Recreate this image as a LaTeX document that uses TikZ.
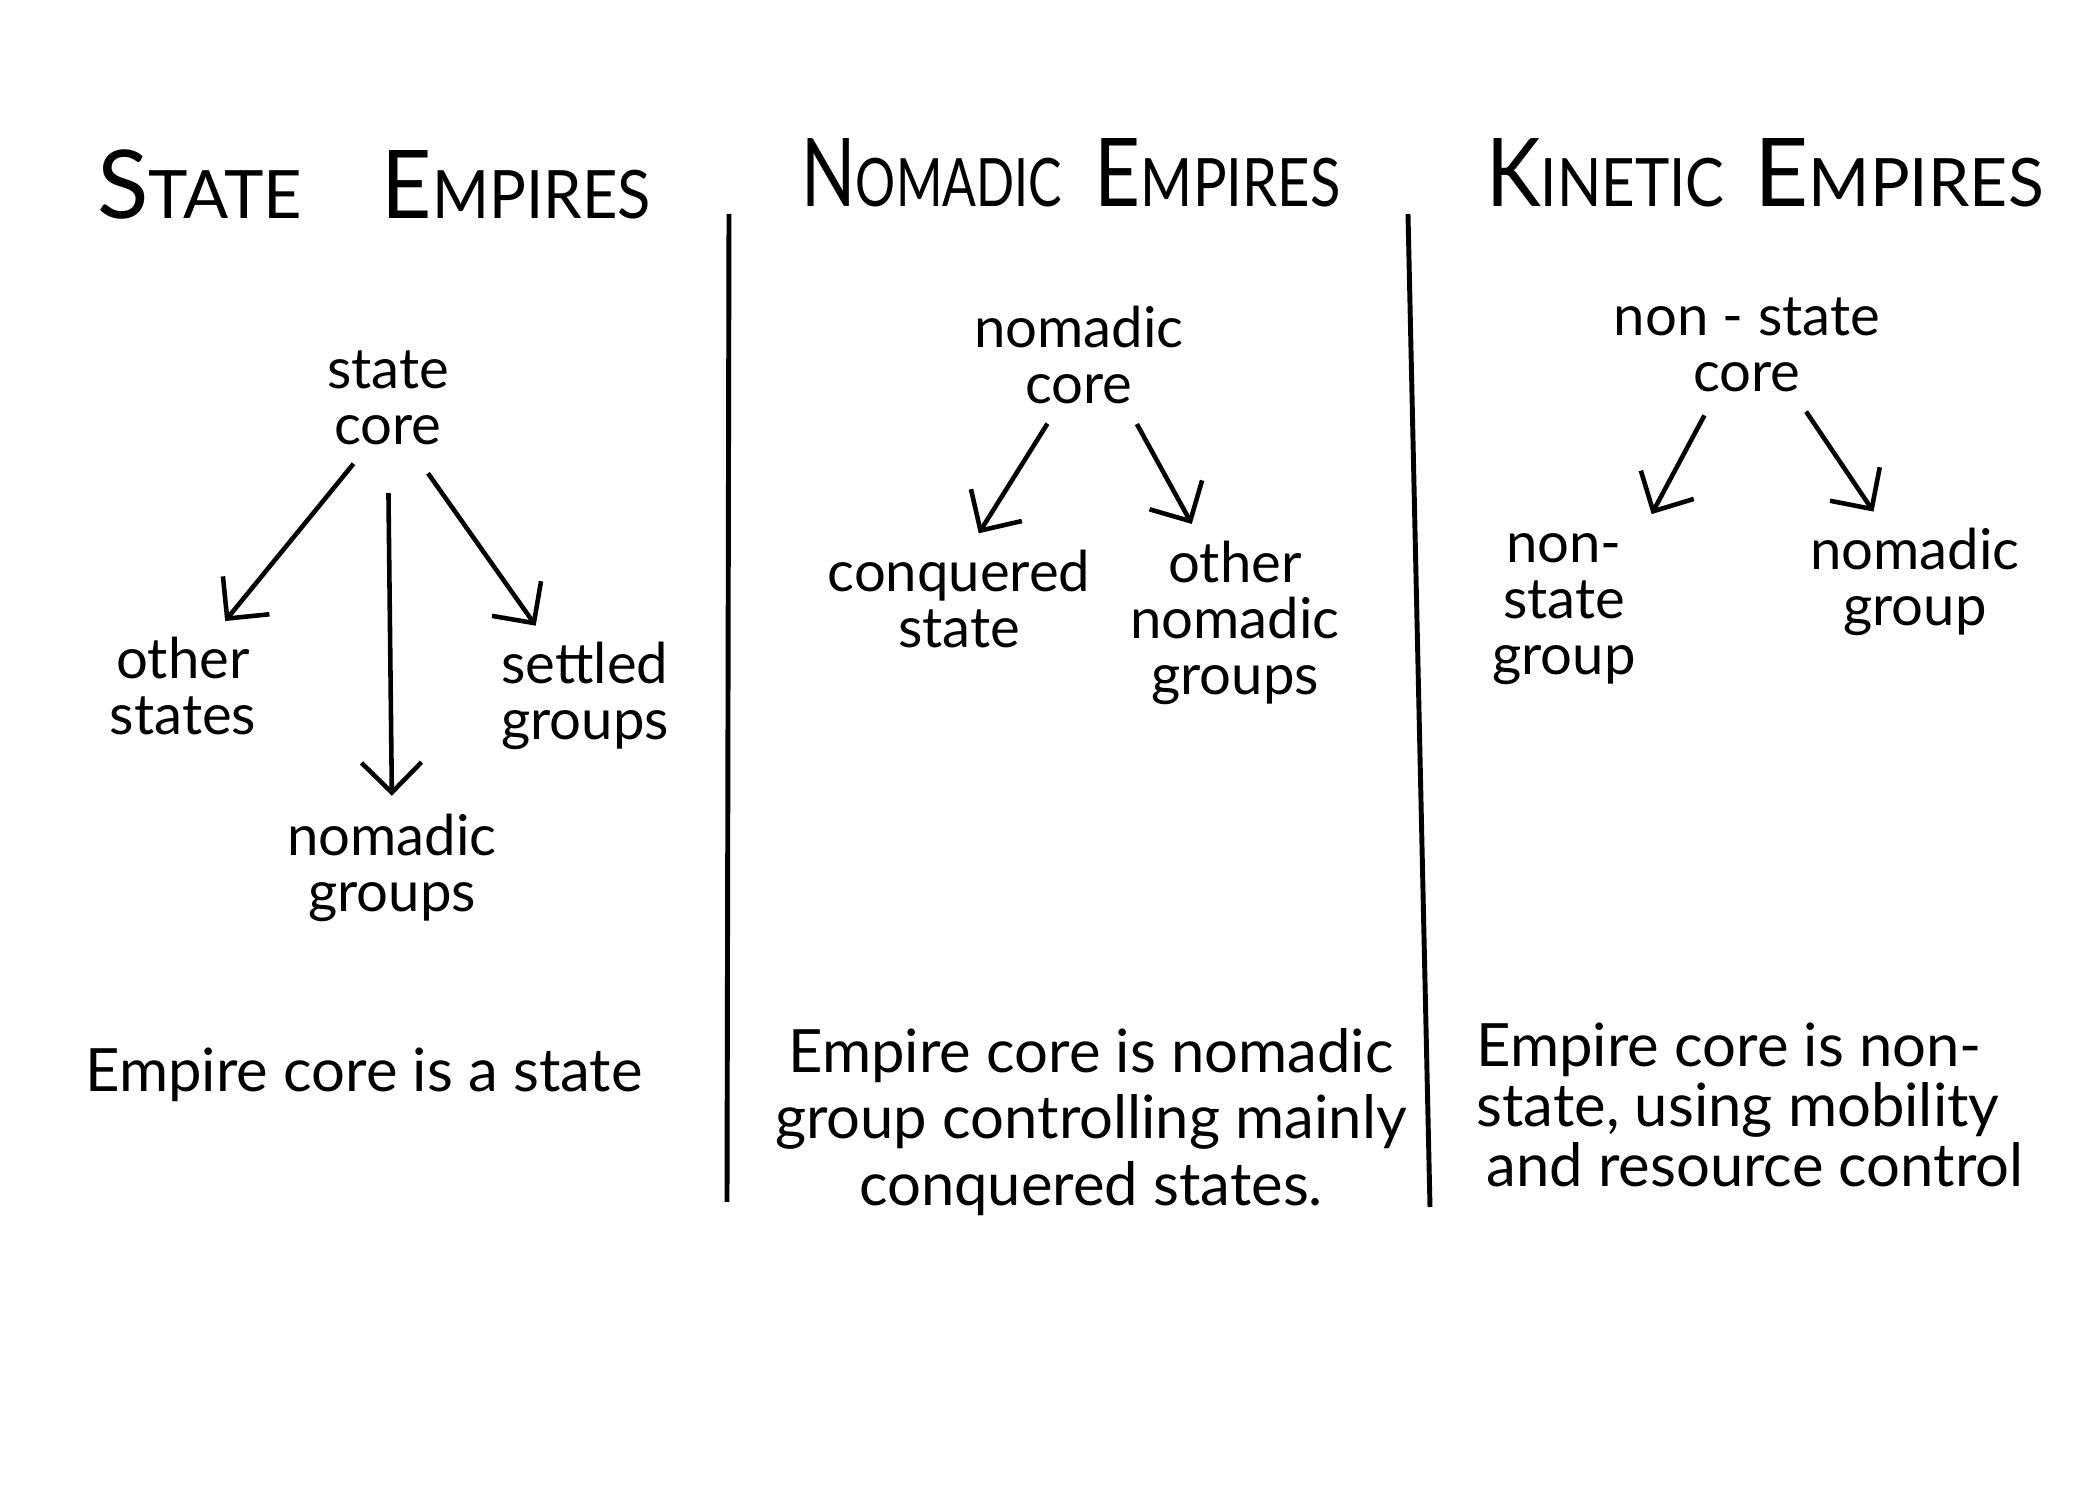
\documentclass[tikz,border=0pt]{standalone}
\usepackage{fontspec}
\setmainfont{Lato}
\usetikzlibrary{positioning,arrows.meta}

% hand-made small caps for the three headings: #1 = x-scale
\newcommand{\hcap}[3]{\scalebox{#1}[1]{{\fontsize{27}{27}\selectfont #2}{\fontsize{19}{19}\selectfont #3}}}

\begin{document}
\begin{tikzpicture}[
  every node/.style={font=\fontsize{16}{16}\selectfont, align=center, inner sep=2pt},
  heading/.style={anchor=center},
  note/.style={font=\fontsize{17}{19}\selectfont},
  arr/.style={-{Straight Barb[length=3mm,width=6mm]}, line width=1.3pt,
              shorten <=4pt, shorten >=3pt},
  divider/.style={line width=1.4pt}
]
\useasboundingbox (0,0) rectangle (21,15);

%% --- Headings ------------------------------------------------
\node[heading] (tstate) at (3.74,13.15)
     {\hcap{1.0}{S}{TATE}\hspace{0.8cm}\hcap{0.92}{E}{MPIRES}};
\node[heading] (tnomad) at (10.71,13.27)
     {\hcap{0.75}{N}{OMADIC}\hspace{0.33cm}\hcap{0.84}{E}{MPIRES}};
\node[heading] (tkinet) at (17.65,13.27)
     {\hcap{0.87}{K}{INETIC}\hspace{0.3cm}\hcap{0.99}{E}{MPIRES}};

%% --- Dividers ------------------------------------------------
\coordinate (div1top) at (7.29,12.86);
\coordinate (div1bot) at (7.27,2.98);
\coordinate (div2top) at (14.08,12.86);
\coordinate (div2bot) at (14.30,2.93);
\draw[divider] (div1top) -- (div1bot);
\draw[divider] (div2top) -- (div2bot);

%% --- State empires -------------------------------------------
\node (score)   at (3.88,11.02) {state\\core};
\node (sother)  at (1.83,8.14)  {other\\states};
\node (ssettle) at (5.85,8.04)  {settled\\groups};
\node (snomad)  at (3.92,6.32)  {nomadic\\groups};

\draw[arr] (score.245) -- (sother.58);
\draw[arr, shorten <=0.4cm] (score.south) -- (snomad.north);
\draw[arr, shorten <=0.25cm] (score.295) -- (ssettle.125);

\node[note] (snote) at (3.64,4.25) {Empire core is a state};

%% --- Nomadic empires -----------------------------------------
\node (ncore)   at (10.79,11.45) {nomadic\\core};
\node (nconq)   at (9.59,9.01)   {conquered\\state};
\node (nother)  at (12.35,8.77)  {other\\nomadic\\groups};

\draw[arr] (ncore.247) -- (nconq.76);
\draw[arr] (ncore.312) -- (nother.113);

\node[note] (nnote) at (10.91,3.78)
     {Empire core is nomadic\\group controlling mainly\\conquered states.};

%% --- Kinetic empires -----------------------------------------
\node (kcore)   at (17.47,11.55) {non - state\\core};
\node (kstate)  at (15.64,8.91)  {non-\\state\\group};
\node (knomad)  at (19.15,9.18)  {nomadic\\group};

\draw[arr, shorten <=5pt, shorten >=5pt] (kcore.238) -- (kstate.45);
\draw[arr] (kcore.313) -- (knomad.120);

\node[note, font=\fontsize{17}{17}\selectfont, align=left] (knote) at (17.50,3.95)
     {Empire core is non-\\state, using mobility\\\hspace{0.1cm}and resource control};

\end{tikzpicture}
\end{document}
